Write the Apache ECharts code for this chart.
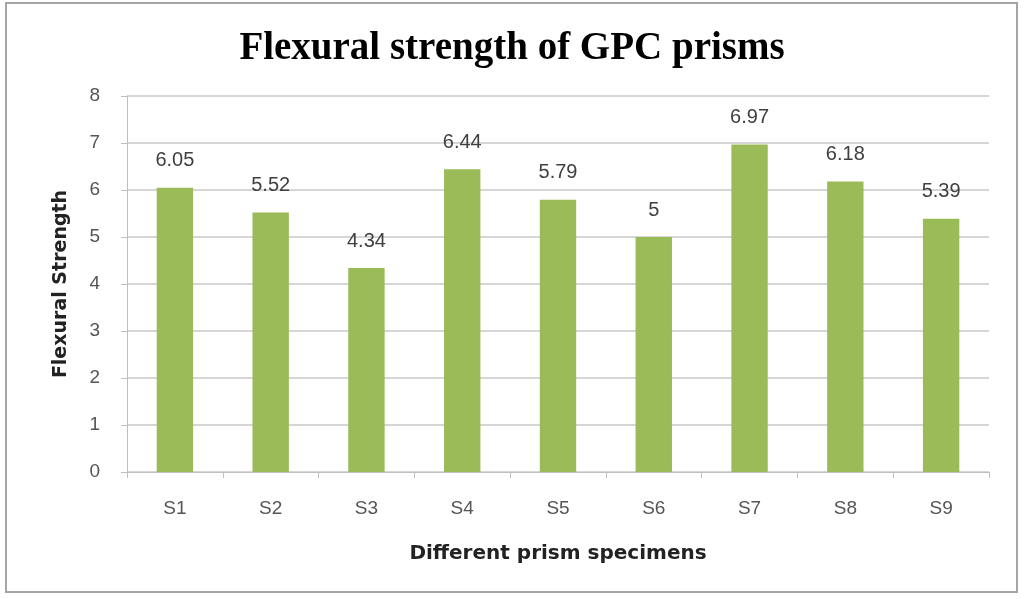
<!DOCTYPE html>
<html><head><meta charset="utf-8">
<script src="https://cdn.jsdelivr.net/npm/echarts@6/dist/echarts.min.js"></script>
<style>
html,body{margin:0;padding:0;background:#fff;}
#frame{position:absolute;left:5px;top:2px;width:1013px;height:591px;border:2px solid #a6a6a6;box-sizing:border-box;}
#c{position:absolute;left:0;top:0;width:1024px;height:599px;}
</style></head><body>
<div id="frame"></div>
<div id="c"></div>
<script>
const categories = ['S1','S2','S3','S4','S5','S6','S7','S8','S9'];
const values = [6.05, 5.52, 4.34, 6.44, 5.79, 5, 6.97, 6.18, 5.39];
const yTicks = [0,1,2,3,4,5,6,7,8];

const chart = echarts.init(document.getElementById('c'), null, {renderer:'canvas'});
chart.setOption({
  animation:false,
  title:{text:'Flexural strength of GPC prisms', left:'center', top:24,
    textStyle:{fontFamily:'Liberation Serif', fontWeight:'bold', fontSize:39, color:'#000'}},
  grid:{left:127, right:35, top:96, bottom:127, containLabel:false},
  xAxis:{type:'category', data:categories,
    axisLine:{lineStyle:{color:'#bfbfbf', width:1}},
    axisTick:{show:true, alignWithLabel:false, length:6, lineStyle:{color:'#bfbfbf'}},
    axisLabel:{fontFamily:'Liberation Sans', fontSize:19, color:'#555', margin:27},
    name:'Different prism specimens', nameLocation:'middle', nameGap:72,
    nameTextStyle:{fontFamily:'DejaVu Sans', fontWeight:'bold', fontSize:20, color:'#222'}},
  yAxis:{type:'value', min:0, max:8, interval:1,
    axisLine:{show:true, lineStyle:{color:'#bfbfbf'}},
    axisTick:{show:true, length:6, lineStyle:{color:'#bfbfbf'}},
    splitLine:{lineStyle:{color:'#c8c8c8', width:1.5}},
    axisLabel:{fontFamily:'Liberation Sans', fontSize:19, color:'#555', margin:27},
    name:'Flexural Strength', nameLocation:'middle', nameGap:56,
    nameTextStyle:{fontFamily:'DejaVu Sans', fontWeight:'bold', fontSize:19, color:'#222'}},
  series:[{type:'bar', data:values, barWidth:'38%',
    itemStyle:{color:'#9bbb59'},
    label:{show:true, position:'top', distance:17, fontFamily:'Liberation Sans', fontSize:20, color:'#404040'}}]
});
</script></body></html>
